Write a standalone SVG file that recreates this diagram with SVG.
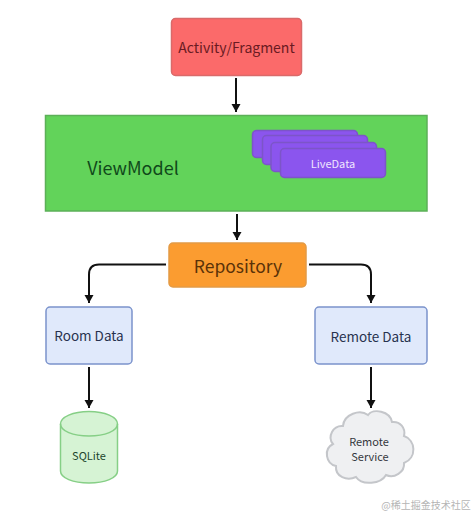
<svg xmlns="http://www.w3.org/2000/svg" width="474" height="515" viewBox="0 0 474 515">
<style>
text{font-family:"Noto Sans CJK SC","Noto Sans",sans-serif;text-anchor:middle}
.c{fill:none;stroke:#111;stroke-width:2;marker-end:url(#a)}
.ld{fill:#8b55ee;stroke:#7c55c8;stroke-width:1.5}
.blue{fill:#e0e9fb;stroke:#7b93cc;stroke-width:1.5}
</style>
<defs><marker id="a" markerUnits="userSpaceOnUse" markerWidth="10" markerHeight="10" refX="8" refY="5" orient="auto"><path d="M0 0.500L8 5L0 9.500Z" fill="#111"/></marker></defs>
<rect width="474" height="515" fill="#fff"/>
<g id="connectors">
<path class="c" d="M236 78V112"/>
<path class="c" d="M237 214V240"/>
<path class="c" d="M166 264.500H99Q89 264.500 89 274.500V303"/>
<path class="c" d="M309 264.500H361Q371 264.500 371 274.500V303"/>
<path class="c" d="M89 367V408"/>
<path class="c" d="M371 367V408"/>
</g>
<g id="activity"><rect x="171.500" y="18.500" width="130" height="57" rx="4" fill="#fb6a6a" stroke="#d96a6a" stroke-width="1.500"/><text x="236.500" y="53" font-size="14" fill="#6a1a22">Activity/Fragment</text></g>
<g id="viewmodel"><rect x="45.500" y="115.500" width="381.500" height="95.500" fill="#62d35a" stroke="#5cb058" stroke-width="1.500"/><text x="133" y="174.500" font-size="18" fill="#10491a">ViewModel</text></g>
<g id="livedata">
<rect class="ld" x="252.500" y="130.500" width="105" height="27" rx="4"/>
<rect class="ld" x="262.500" y="135.500" width="105" height="29" rx="4"/>
<rect class="ld" x="271" y="142.500" width="105.500" height="29" rx="4"/>
<rect class="ld" x="280.500" y="148.500" width="105" height="29" rx="4"/>
<text x="333" y="168" font-size="11" fill="#f0e6ff">LiveData</text></g>
<g id="repository"><rect x="169" y="243" width="137" height="44" rx="4" fill="#fb9c30" stroke="#e39a45" stroke-width="1.500"/><text x="238" y="272.500" font-size="17.500" fill="#5a3208">Repository</text></g>
<g id="room"><rect class="blue" x="46" y="307" width="86" height="57" rx="4"/><text x="89" y="341" font-size="13.500" fill="#27324e">Room Data</text></g>
<g id="remote"><rect class="blue" x="315" y="307" width="112" height="57" rx="4"/><text x="371" y="342" font-size="13.500" fill="#27324e">Remote Data</text></g>
<g id="sqlite"><path d="M60.500 424V471C60.500 478 73 483 89 483S117.500 478 117.500 471V424C117.500 417 105 411.500 89 411.500S60.500 417 60.500 424Z" fill="#d6f3d4" stroke="#86cf86" stroke-width="1.500"/><path d="M60.500 424C60.500 431 73 436 89 436S117.500 431 117.500 424" fill="none" stroke="#86cf86" stroke-width="1.500"/><text x="89" y="460" font-size="11" fill="#22452c">SQLite</text></g>
<g id="cloud"><path d="M343 426C344 414 360 409 368 415C373 408 390 411 392 422C400 421 406 428 404 436C416 440 417 458 404 463C405 472 394 479 386 475C381 484 362 486 356 477C347 481 335 477 336 466C326 464 323 449 333 444C327 437 333 425 343 426Z" fill="#eff0f2" stroke="#c4c6ca" stroke-width="2"/><text font-size="11" fill="#34373d"><tspan x="369" y="446">Remote</tspan><tspan x="370" y="461">Service</tspan></text></g>
<text id="watermark" x="426" y="509" font-size="10" fill="#b5b5b5">@稀土掘金技术社区</text>
</svg>
